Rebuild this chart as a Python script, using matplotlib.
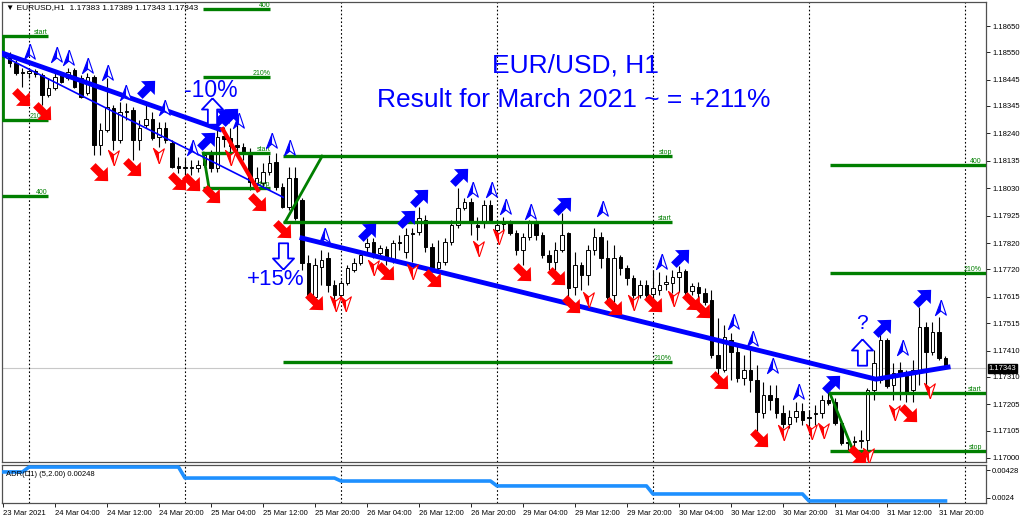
import numpy as np
import matplotlib.pyplot as plt
from matplotlib.path import Path
from matplotlib.transforms import blended_transform_factory

plt.rcParams['font.family'] = ['Liberation Sans', 'DejaVu Sans']

# EURUSD H1 bars, bar 0 = 23 Mar 2021 20:00 ... bar 145 = 31 Mar 21:00
opens = [1.18531, 1.18539, 1.18508, 1.18470, 1.18470, 1.18478, 1.18462, 1.18386, 1.18413, 1.18462,
         1.18451, 1.18482, 1.18451, 1.18394, 1.18455, 1.18195, 1.18252, 1.18336, 1.18214, 1.18321,
         1.18329, 1.18214, 1.18272, 1.18294, 1.18226, 1.18260, 1.18203, 1.18115, 1.18107, 1.18107,
         1.18107, 1.18119, 1.18157, 1.18107, 1.18230, 1.18222, 1.18195, 1.18188, 1.18157, 1.18050,
         1.18050, 1.18092, 1.18130, 1.18035, 1.17958, 1.18069, 1.17985, 1.17744, 1.17614, 1.17729,
         1.17763, 1.17660, 1.17622, 1.17668, 1.17718, 1.17744, 1.17806, 1.17825, 1.17783, 1.17798,
         1.17756, 1.17825, 1.17786, 1.17859, 1.17863, 1.17909, 1.17806, 1.17725, 1.17748, 1.17825,
         1.17890, 1.17954, 1.17977, 1.17890, 1.17897, 1.17966, 1.17870, 1.17897, 1.17897, 1.17859,
         1.17794, 1.17844, 1.17897, 1.17851, 1.17775, 1.17748, 1.17794, 1.17859, 1.17653, 1.17737,
         1.17699, 1.17794, 1.17844, 1.17763, 1.17622, 1.17767, 1.17725, 1.17687, 1.17622, 1.17660,
         1.17626, 1.17641, 1.17664, 1.17668, 1.17691, 1.17714, 1.17637, 1.17653, 1.17630, 1.17603,
         1.17393, 1.17336, 1.17450, 1.17404, 1.17305, 1.17336, 1.17297, 1.17171, 1.17240, 1.17229,
         1.17171, 1.17129, 1.17156, 1.17179, 1.17156, 1.17168, 1.17171, 1.17221, 1.17213, 1.17133,
         1.17061, 1.17061, 1.17064, 1.17068, 1.17259, 1.17297, 1.17450, 1.17278, 1.17336, 1.17317,
         1.17259, 1.17336, 1.17500, 1.17404, 1.17481, 1.17383]
highs = [1.18558, 1.18550, 1.18520, 1.18489, 1.18489, 1.18485, 1.18470, 1.18451, 1.18474, 1.18474,
         1.18489, 1.18489, 1.18462, 1.18470, 1.18462, 1.18279, 1.18451, 1.18348, 1.18359, 1.18356,
         1.18340, 1.18291, 1.18348, 1.18321, 1.18283, 1.18283, 1.18214, 1.18149, 1.18145, 1.18138,
         1.18138, 1.18168, 1.18176, 1.18252, 1.18264, 1.18260, 1.18279, 1.18203, 1.18184, 1.18111,
         1.18126, 1.18157, 1.18165, 1.18050, 1.18111, 1.18111, 1.17993, 1.17775, 1.17763, 1.17794,
         1.17786, 1.17679, 1.17679, 1.17737, 1.17763, 1.17794, 1.17840, 1.17840, 1.17813, 1.17809,
         1.17832, 1.17851, 1.17878, 1.17878, 1.17958, 1.17928, 1.17821, 1.17832, 1.17840, 1.17909,
         1.18031, 1.17993, 1.17993, 1.17920, 1.17985, 1.17985, 1.17909, 1.17920, 1.17909, 1.17870,
         1.17859, 1.17909, 1.17909, 1.17863, 1.17794, 1.17825, 1.17935, 1.17863, 1.17786, 1.17748,
         1.17813, 1.17878, 1.17863, 1.17832, 1.17813, 1.17775, 1.17737, 1.17699, 1.17679, 1.17679,
         1.17718, 1.17710, 1.17699, 1.17718, 1.17733, 1.17722, 1.17668, 1.17672, 1.17649, 1.17641,
         1.17534, 1.17507, 1.17477, 1.17431, 1.17393, 1.17424, 1.17355, 1.17290, 1.17278, 1.17278,
         1.17202, 1.17183, 1.17213, 1.17210, 1.17183, 1.17202, 1.17240, 1.17252, 1.17229, 1.17145,
         1.17076, 1.17084, 1.17106, 1.17267, 1.17412, 1.17500, 1.17458, 1.17362, 1.17366, 1.17336,
         1.17374, 1.17576, 1.17519, 1.17519, 1.17538, 1.17389]
lows = [1.18520, 1.18493, 1.18462, 1.18417, 1.18451, 1.18455, 1.18348, 1.18378, 1.18405, 1.18432,
        1.18443, 1.18413, 1.18375, 1.18386, 1.18157, 1.18157, 1.18245, 1.18176, 1.18203, 1.18291,
        1.18138, 1.18176, 1.18260, 1.18214, 1.18188, 1.18203, 1.18107, 1.18088, 1.18081, 1.18081,
        1.18092, 1.18111, 1.18092, 1.18092, 1.18188, 1.18157, 1.18168, 1.18138, 1.18023, 1.18023,
        1.18031, 1.18081, 1.18023, 1.17954, 1.17947, 1.17909, 1.17718, 1.17603, 1.17595, 1.17660,
        1.17634, 1.17603, 1.17611, 1.17660, 1.17710, 1.17737, 1.17786, 1.17763, 1.17767, 1.17737,
        1.17744, 1.17794, 1.17763, 1.17748, 1.17851, 1.17786, 1.17710, 1.17718, 1.17737, 1.17813,
        1.17878, 1.17947, 1.17851, 1.17832, 1.17878, 1.17901, 1.17863, 1.17859, 1.17851, 1.17775,
        1.17737, 1.17832, 1.17832, 1.17763, 1.17718, 1.17718, 1.17786, 1.17611, 1.17622, 1.17641,
        1.17660, 1.17775, 1.17725, 1.17595, 1.17595, 1.17699, 1.17660, 1.17611, 1.17611, 1.17611,
        1.17603, 1.17622, 1.17641, 1.17630, 1.17634, 1.17622, 1.17622, 1.17603, 1.17584, 1.17381,
        1.17317, 1.17328, 1.17297, 1.17290, 1.17278, 1.17252, 1.17068, 1.17152, 1.17183, 1.17152,
        1.17114, 1.17114, 1.17137, 1.17126, 1.17106, 1.17126, 1.17152, 1.17202, 1.17126, 1.17049,
        1.17022, 1.17030, 1.17038, 1.17022, 1.17221, 1.17286, 1.17267, 1.17221, 1.17221, 1.17213,
        1.17213, 1.17278, 1.17271, 1.17393, 1.17374, 1.17343]
closes = [1.18543, 1.18508, 1.18470, 1.18474, 1.18478, 1.18466, 1.18386, 1.18413, 1.18455, 1.18436,
          1.18474, 1.18417, 1.18378, 1.18455, 1.18195, 1.18252, 1.18340, 1.18214, 1.18321, 1.18325,
          1.18214, 1.18260, 1.18294, 1.18222, 1.18260, 1.18214, 1.18111, 1.18107, 1.18111, 1.18111,
          1.18119, 1.18157, 1.18107, 1.18226, 1.18218, 1.18191, 1.18188, 1.18168, 1.18054, 1.18069,
          1.18092, 1.18126, 1.18035, 1.17958, 1.18069, 1.17916, 1.17744, 1.17614, 1.17737, 1.17756,
          1.17660, 1.17622, 1.17668, 1.17725, 1.17744, 1.17775, 1.17821, 1.17783, 1.17802, 1.17756,
          1.17821, 1.17821, 1.17851, 1.17855, 1.17916, 1.17806, 1.17725, 1.17748, 1.17825, 1.17890,
          1.17954, 1.17977, 1.17897, 1.17882, 1.17966, 1.17909, 1.17890, 1.17893, 1.17859, 1.17794,
          1.17844, 1.17897, 1.17851, 1.17775, 1.17748, 1.17794, 1.17851, 1.17649, 1.17737, 1.17699,
          1.17794, 1.17844, 1.17763, 1.17614, 1.17763, 1.17725, 1.17687, 1.17622, 1.17660, 1.17622,
          1.17649, 1.17660, 1.17672, 1.17691, 1.17710, 1.17634, 1.17656, 1.17630, 1.17595, 1.17393,
          1.17343, 1.17462, 1.17404, 1.17305, 1.17336, 1.17297, 1.17175, 1.17240, 1.17221, 1.17171,
          1.17129, 1.17156, 1.17179, 1.17145, 1.17152, 1.17171, 1.17221, 1.17210, 1.17133, 1.17057,
          1.17057, 1.17064, 1.17068, 1.17259, 1.17362, 1.17450, 1.17275, 1.17324, 1.17317, 1.17252,
          1.17336, 1.17500, 1.17404, 1.17481, 1.17381, 1.17343]

# ADR(D1) indicator: one value per trading day, first bar of each day
adr_day_start = [0, 4, 28, 52, 76, 100, 124]
adr_values = [0.00415, 0.00448, 0.00374, 0.00354, 0.00321, 0.00267, 0.00220]

day_separators = [4, 28, 52, 76, 100, 124, 148]
time_tick_bars = list(range(0, 145, 8))
time_tick_labels = ['23 Mar 2021', '24 Mar 04:00', '24 Mar 12:00', '24 Mar 20:00', '25 Mar 04:00',
                    '25 Mar 12:00', '25 Mar 20:00', '26 Mar 04:00', '26 Mar 12:00', '26 Mar 20:00',
                    '29 Mar 04:00', '29 Mar 12:00', '29 Mar 20:00', '30 Mar 04:00', '30 Mar 12:00',
                    '30 Mar 20:00', '31 Mar 04:00', '31 Mar 12:00', '31 Mar 20:00']
price_ticks = [1.18650, 1.18550, 1.18445, 1.18345, 1.18240, 1.18135, 1.18030, 1.17925, 1.17820,
               1.17720, 1.17615, 1.17515, 1.17410, 1.17310, 1.17205, 1.17105, 1.17000]
adr_ticks = [0.00428, 0.0024]
adr_tick_labels = ['0.00428', '0.0024']
last_price = 1.17343

# drawn objects: green level lines
lvl_x0 = [-0.2, -0.2, -0.2, 30.8, 30.8, 30.8, 30.8, 43.1, 43.1, 43.1, 127.2, 127.2, 127.2, 127.2]
lvl_x1 = [6.9, 6.9, 6.9, 41.1, 41.1, 41.1, 41.1, 102.9, 102.9, 102.9, 151.3, 151.3, 151.3, 151.3]
lvl_price = [1.18611, 1.18291, 1.18000, 1.18715, 1.18455, 1.18165, 1.18031,
             1.18153, 1.17901, 1.17366, 1.18119, 1.17706, 1.17248, 1.17027]
lvl_label = ['start', '210%', '400', '400', '210%', 'start', 'stop',
             'stop', 'start', '210%', '400', '210%', 'start', 'stop']
diag_x0 = [0.0, 30.8, 43.4, 127.2]
diag_y0 = [1.18611, 1.18165, 1.17901, 1.17248]
diag_x1 = [0.0, 31.7, 49.1, 130.8]
diag_y1 = [1.18291, 1.18031, 1.18153, 1.17027]

# trend lines
upper_x, upper_y = [-0.5, 33.7], [1.18550, 1.18252]
thin_x, thin_y = [0.0, 43.1], [1.18535, 1.17996]
red_x, red_y = [33.8, 39.2], [1.18256, 1.18023]
lower_x, lower_y = [46.0, 134.3, 145.4], [1.17840, 1.17301, 1.17347]

# arrow signals
up_head_x = [4.0, 8.2, 10.0, 12.9, 16.0, 18.8, 24.8, 29.1, 36.2, 41.2, 44.0, 49.4, 72.2, 75.1,
             77.2, 81.1, 92.2, 101.2, 112.3, 115.2, 118.3, 122.3, 138.3, 144.2]
up_head_y = [1.18550, 1.18539, 1.18527, 1.18497, 1.18470, 1.18394, 1.18336, 1.18184, 1.18287,
             1.18210, 1.18184, 1.17848, 1.18023, 1.18023, 1.17958, 1.17939, 1.17951, 1.17748,
             1.17519, 1.17454, 1.17351, 1.17252, 1.17420, 1.17572]
down_head_x = [16.9, 23.8, 34.9, 51.1, 52.6, 56.9, 62.9, 73.1, 76.2, 90.0, 96.9, 103.1,
               120.0, 124.3, 126.2, 133.1, 137.1, 142.5]
down_head_y = [1.18149, 1.18157, 1.18149, 1.17592, 1.17592, 1.17729, 1.17714, 1.17802, 1.17848,
               1.17607, 1.17595, 1.17611, 1.17099, 1.17103, 1.17106, 1.17011, 1.17175, 1.17259]
buy_x = [22.2, 31.4, 33.7, 34.9, 56.2, 62.2, 64.2, 70.3, 86.2, 104.3, 127.5, 135.4, 141.5]
buy_y = [1.18413, 1.18214, 1.18302, 1.18306, 1.17867, 1.17916, 1.17996, 1.18077, 1.17966,
         1.17767, 1.17286, 1.17500, 1.17614]
sell_x = [2.9, 6.2, 14.9, 20.0, 26.9, 29.1, 32.2, 39.2, 43.1, 48.0, 58.9, 66.2, 80.0, 85.2,
          87.5, 94.0, 100.2, 106.0, 107.5, 110.3, 116.5, 131.5, 139.4]
sell_y = [1.18375, 1.18321, 1.18088, 1.18107, 1.18054, 1.18050, 1.18004, 1.17974, 1.17870,
          1.17595, 1.17710, 1.17683, 1.17706, 1.17691, 1.17584, 1.17576, 1.17588, 1.17595,
          1.17565, 1.17294, 1.17072, 1.17011, 1.17168]
hollow_up_x, hollow_up_y = [32.2, 132.2], [1.18325, 1.17404]
hollow_down_x, hollow_down_y = [43.1], [1.17771]

BLUE = '#0000ff'
RED = '#ff0000'
GREEN = '#007f00'


def rotated(verts, deg):
    a = np.deg2rad(deg)
    r = np.array([[np.cos(a), -np.sin(a)], [np.sin(a), np.cos(a)]])
    return Path(np.array(verts) @ r.T, closed=False)


arrow = [(-1, -0.36), (0.05, -0.36), (0.05, -0.9), (1, 0), (0.05, 0.9), (0.05, 0.36), (-1, 0.36), (-1, -0.36)]
ne_arrow = rotated(arrow, 45)
se_arrow = rotated(arrow, -45)
head = [(0.1, 1), (0.7, -0.8), (0.05, -0.3), (-0.6, -0.85), (0.1, 1)]
head_half = [(0.1, 1), (0.05, -0.3), (-0.6, -0.85), (0.1, 1)]
head_up, head_up_half = Path(head), Path(head_half)
head_dn = Path([(x, -y) for x, y in head])
head_dn_half = Path([(x, -y) for x, y in head_half])
block = [(0, 1), (0.8, 0.15), (0.35, 0.15), (0.35, -1), (-0.35, -1), (-0.35, 0.15), (-0.8, 0.15), (0, 1)]
block_up = Path(block)
block_dn = Path([(x, -y) for x, y in block])

W, H = 1024, 521
fig = plt.figure(figsize=(10.24, 5.21), dpi=100)
ax = fig.add_axes([2 / W, (H - 462) / H, 984 / W, 460 / H])
ax2 = fig.add_axes([2 / W, (H - 503) / H, 984 / W, 38 / H])

xlim = (-1 / 6.5, 983 / 6.5)
ax.set_xlim(*xlim)
ax.set_ylim(1.169847, 1.187417)
ax2.set_xlim(*xlim)
ax2.set_ylim(0.002064, 0.004616)

# candles
o, h, l, c = map(np.array, (opens, highs, lows, closes))
idx = np.arange(len(o))
ax.vlines(idx, l, h, color='black', lw=0.8, zorder=2)
bull = c >= o
ax.bar(idx, np.maximum(np.abs(c - o), 0.000004), bottom=np.minimum(o, c), width=0.6,
       color=np.where(bull, 'white', 'black'), edgecolor='black', lw=0.7, zorder=3)

ax.axhline(last_price, color='#c8c8c8', lw=0.8, zorder=1)
for a in (ax, ax2):
    for d in day_separators:
        a.axvline(d, color='black', lw=0.8, ls=(0, (1.5, 2)), zorder=1)

# green levels
ax.hlines(lvl_price, lvl_x0, lvl_x1, color=GREEN, lw=2.4, zorder=4)
for x1, p, t in zip(lvl_x1, lvl_price, lvl_label):
    ax.text(min(x1, 150.6), p, t, color=GREEN, fontsize=5, ha='right', va='bottom', zorder=4)
for x0, y0, x1, y1 in zip(diag_x0, diag_y0, diag_x1, diag_y1):
    ax.plot([x0, x1], [y0, y1], color=GREEN, lw=2, zorder=4)

# trend lines
ax.plot(upper_x, upper_y, color=BLUE, lw=3.5, zorder=5, solid_capstyle='butt')
ax.plot(thin_x, thin_y, color=BLUE, lw=1.2, zorder=5)
ax.plot(red_x, red_y, color=RED, lw=3, zorder=5)
ax.plot(lower_x, lower_y, color=BLUE, lw=3.5, zorder=5, solid_joinstyle='round')

# signals
ax.scatter(buy_x, buy_y, marker=ne_arrow, s=15 ** 2, color=BLUE, linewidths=0, zorder=6)
ax.scatter(sell_x, sell_y, marker=se_arrow, s=15 ** 2, color=RED, linewidths=0, zorder=6)
ax.scatter(up_head_x, up_head_y, marker=head_up, s=12 ** 2, facecolor='white', edgecolor=BLUE,
           linewidths=0.8, zorder=6)
ax.scatter(up_head_x, up_head_y, marker=head_up_half, s=12 ** 2, color=BLUE, linewidths=0, zorder=6)
ax.scatter(down_head_x, down_head_y, marker=head_dn, s=12 ** 2, facecolor='white', edgecolor=RED,
           linewidths=0.8, zorder=6)
ax.scatter(down_head_x, down_head_y, marker=head_dn_half, s=12 ** 2, color=RED, linewidths=0, zorder=6)
ax.scatter(hollow_up_x, hollow_up_y, marker=block_up, s=19 ** 2, facecolor='white', edgecolor=BLUE,
           linewidths=1.3, zorder=6)
ax.scatter(hollow_down_x, hollow_down_y, marker=block_dn, s=19 ** 2, facecolor='white', edgecolor=BLUE,
           linewidths=1.3, zorder=6)

# annotations
ax.text(88.0, 1.18501, 'EUR/USD, H1', color=BLUE, fontsize=19, ha='center', va='center', zorder=7)
ax.text(87.8, 1.18367, 'Result for March 2021 ~ = +211%', color=BLUE, fontsize=19,
        ha='center', va='center', zorder=7)
ax.text(32.0, 1.18405, '-10%', color=BLUE, fontsize=16.5, ha='center', va='center', zorder=7)
ax.text(42.0, 1.17683, '+15%', color=BLUE, fontsize=16, ha='center', va='center', zorder=7)
ax.text(132.2, 1.17515, '?', color=BLUE, fontsize=15, ha='center', va='center', zorder=7)
ax.text(0.004, 0.995, '\u25bc EURUSD,H1  1.17383 1.17389 1.17343 1.17343', transform=ax.transAxes,
        fontsize=6, ha='left', va='top', zorder=7)

# ADR panel
adr_bars = np.zeros(len(o))
for s, v in zip(adr_day_start, adr_values):
    adr_bars[s:] = v
ax2.plot(idx, adr_bars, color='#1e90ff', lw=2.6, zorder=3)
ax2.text(0.004, 0.85, 'ADR(D1) (5,2.00) 0.00248', transform=ax2.transAxes, fontsize=5.5,
         ha='left', va='top', zorder=4)

# axes styling
for a in (ax, ax2):
    for sp in a.spines.values():
        sp.set_color('#505050')
        sp.set_linewidth(0.9)
    a.yaxis.tick_right()
    a.tick_params(axis='y', labelsize=5.5, length=3, pad=1.5, width=0.6)
ax.set_xticks([])
ax.set_yticks(price_ticks)
ax.set_yticklabels([f'{p:.5f}' for p in price_ticks])
ax2.set_yticks(adr_ticks)
ax2.set_yticklabels(adr_tick_labels)
ax2.set_xticks(time_tick_bars)
ax2.set_xticklabels(time_tick_labels)
ax2.tick_params(axis='x', labelsize=5.5, length=3, pad=2, width=0.6)
for lbl in ax2.get_xticklabels():
    lbl.set_ha('left')

tr = blended_transform_factory(ax.transAxes, ax.transData)
ax.text(1.003, last_price, f'{last_price:.5f}', transform=tr, color='white', fontsize=5.5,
        ha='left', va='center', clip_on=False, zorder=8,
        bbox=dict(facecolor='black', edgecolor='black', pad=0.6))

fig.savefig('out.png', dpi=100)
